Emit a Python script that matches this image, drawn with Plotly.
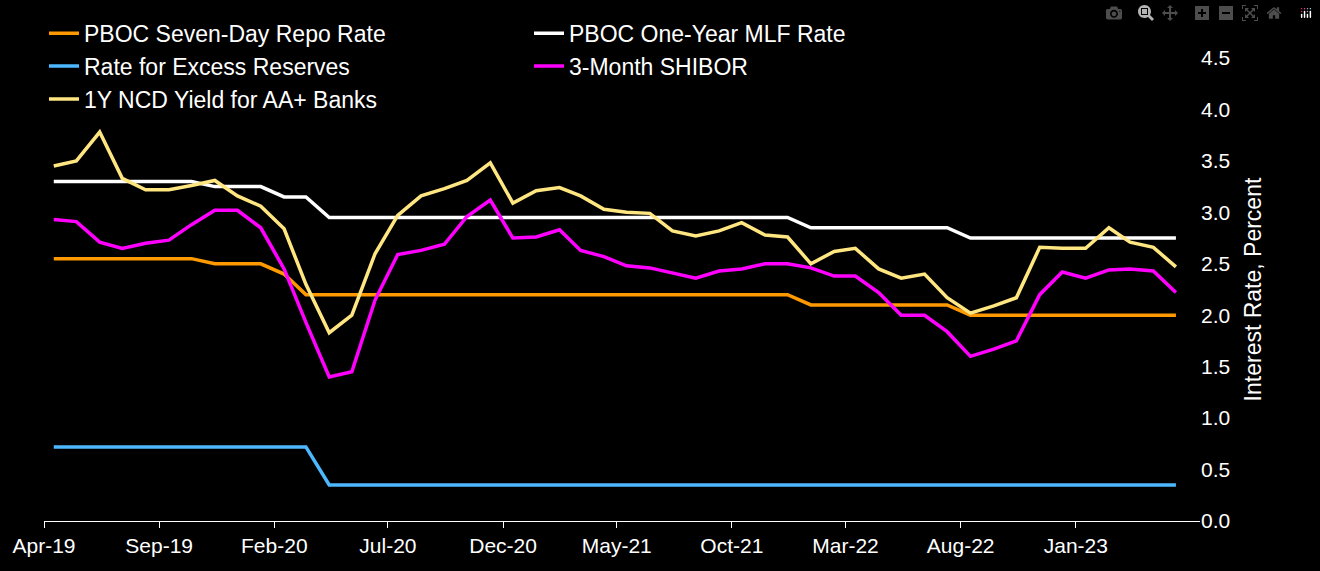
import plotly.graph_objects as go
import pandas as pd

dates = [pd.Timestamp(2019 + (3 + i) // 12, (3 + i) % 12 + 1, 14) for i in range(50)]

repo = [2.55]*7 + [2.50]*3 + [2.40] + [2.20]*22 + [2.10]*7 + [2.00]*10
mlf = [3.30]*7 + [3.25]*3 + [3.15]*2 + [2.95]*21 + [2.85]*7 + [2.75]*10
ioer = [0.72]*12 + [0.35]*38
shibor = [2.93, 2.91, 2.71, 2.65, 2.70, 2.73, 2.88, 3.02, 3.02, 2.85, 2.45, 1.93, 1.40, 1.45, 2.15, 2.59,
          2.63, 2.69, 2.96, 3.12, 2.75, 2.76, 2.83, 2.63, 2.57, 2.48, 2.46, 2.41, 2.36, 2.43, 2.45, 2.50,
          2.50, 2.46, 2.38, 2.38, 2.22, 2.00, 2.00, 1.84, 1.60, 1.67, 1.75, 2.20, 2.42, 2.36, 2.44, 2.45,
          2.43, 2.22]
ncd = [3.45, 3.50, 3.78, 3.33, 3.22, 3.22, 3.26, 3.31, 3.16, 3.06, 2.84, 2.30, 1.83, 2.00, 2.60, 2.97,
       3.16, 3.23, 3.31, 3.48, 3.09, 3.21, 3.24, 3.16, 3.03, 3.00, 2.99, 2.82, 2.77, 2.82, 2.90, 2.78,
       2.76, 2.50, 2.62, 2.65, 2.45, 2.36, 2.40, 2.17, 2.02, 2.09, 2.17, 2.66, 2.65, 2.65, 2.85, 2.71,
       2.66, 2.47]

series = [
    ("PBOC Seven-Day Repo Rate", repo, "#FF9900"),
    ("PBOC One-Year MLF Rate", mlf, "#FFFFFF"),
    ("Rate for Excess Reserves", ioer, "#4DB8FF"),
    ("3-Month SHIBOR", shibor, "#FF00FF"),
    ("1Y NCD Yield for AA+ Banks", ncd, "#FFE680"),
]

fig = go.Figure()
for name, vals, col in series:
    fig.add_trace(go.Scatter(x=dates, y=vals, name=name, mode="lines",
                             line=dict(color=col, width=3.5)))

tickvals = [pd.Timestamp(2019 + (3 + 5*k) // 12, (3 + 5*k) % 12 + 1, 1) for k in range(10)]
fig.update_layout(
    width=1320, height=571, paper_bgcolor="black", plot_bgcolor="black",
    font=dict(family="Liberation Sans, Arial", color="white", size=21),
    margin=dict(l=38, r=120, t=47, b=50),
    showlegend=True,
    legend=dict(orientation="h", x=0.0, y=1.10, xanchor="left", yanchor="top",
                entrywidth=440, entrywidthmode="pixels", bgcolor="rgba(0,0,0,0)",
                font=dict(size=23), tracegroupgap=0, itemwidth=30),
    xaxis=dict(range=[pd.Timestamp(2019, 4, 1), pd.Timestamp(2023, 6, 15)],
               tickvals=tickvals, tickformat="%b-%y", showgrid=False, zeroline=False,
               showline=True, linecolor="white", linewidth=1, ticks="outside",
               tickcolor="white", ticklen=6),
    yaxis=dict(side="right", range=[0, 4.5], dtick=0.5, tickformat=".1f", showgrid=False,
               zeroline=False, title=dict(text="Interest Rate, Percent", font=dict(size=23)),
               ticks="", showline=False),
)
fig.write_html("out.html",
               post_script="document.body.style.margin='0';document.body.style.background='black';")
